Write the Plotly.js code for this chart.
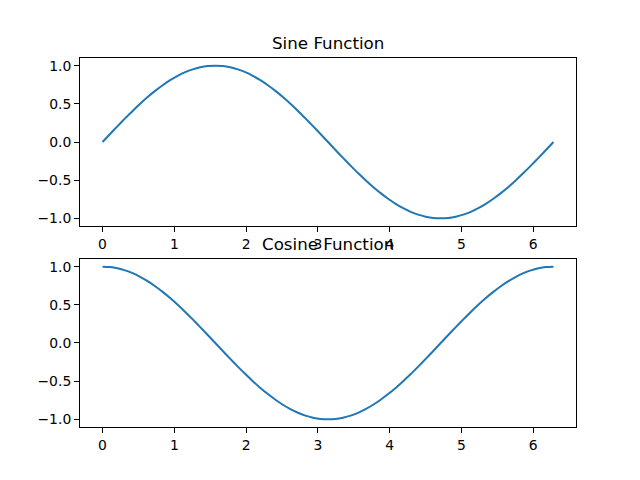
<!DOCTYPE html>
<html>
<head>
<meta charset="utf-8">
<script src="https://cdn.plot.ly/plotly-3.0.1.min.js"></script>
<style>html,body{margin:0;padding:0;background:#fff}#chart{width:640px;height:480px}</style>
</head>
<body>
<div id="chart"></div>
<script>
const xValues = [0, 0.105, 0.209, 0.314, 0.419, 0.524, 0.628, 0.733, 0.838, 0.942, 1.047, 1.152, 1.257, 1.361, 1.466, 1.571, 1.676, 1.780, 1.885, 1.990, 2.094, 2.199, 2.304, 2.409, 2.513, 2.618, 2.723, 2.827, 2.932, 3.037, 3.142, 3.246, 3.351, 3.456, 3.560, 3.665, 3.770, 3.875, 3.979, 4.084, 4.189, 4.294, 4.398, 4.503, 4.608, 4.712, 4.817, 4.922, 5.027, 5.131, 5.236, 5.341, 5.445, 5.550, 5.655, 5.760, 5.864, 5.969, 6.074, 6.178, 6.283];
const sineValues = [0, .105, .208, .309, .407, .5, .588, .669, .743, .809, .866, .914, .951, .978, .995, 1,
  .995, .978, .951, .914, .866, .809, .743, .669, .588, .5, .407, .309, .208, .105, 0,
  -.105, -.208, -.309, -.407, -.5, -.588, -.669, -.743, -.809, -.866, -.914, -.951, -.978, -.995, -1,
  -.995, -.978, -.951, -.914, -.866, -.809, -.743, -.669, -.588, -.5, -.407, -.309, -.208, -.105, 0];
const cosineValues = [1, .995, .978, .951, .914, .866, .809, .743, .669, .588, .5, .407, .309, .208, .105, 0,
  -.105, -.208, -.309, -.407, -.5, -.588, -.669, -.743, -.809, -.866, -.914, -.951, -.978, -.995, -1,
  -.995, -.978, -.951, -.914, -.866, -.809, -.743, -.669, -.588, -.5, -.407, -.309, -.208, -.105, 0,
  .105, .208, .309, .407, .5, .588, .669, .743, .809, .866, .914, .951, .978, .995, 1];
const titles = ["Sine Function", "Cosine Function"];
const xTicks = [0, 1, 2, 3, 4, 5, 6];
const yTicks = [-1.0, -0.5, 0.0, 0.5, 1.0];

const lineStyle = {color: '#1f77b4', width: 2, shape: 'spline', smoothing: 0.6};
const traces = [
  {x: xValues, y: sineValues, type: 'scatter', mode: 'lines', line: lineStyle, xaxis: 'x', yaxis: 'y'},
  {x: xValues, y: cosineValues, type: 'scatter', mode: 'lines', line: lineStyle, xaxis: 'x2', yaxis: 'y2'}
];
const font = {family: 'DejaVu Sans', size: 13.9, color: '#000'};
function xa(anchor) {
  return {anchor: anchor, range: [-0.314, 6.597], tickvals: xTicks, ticks: 'outside', ticklen: 5, tickwidth: 1,
    tickcolor: '#000', showline: true, linecolor: '#000', linewidth: 1, mirror: true, showgrid: false,
    zeroline: false, tickfont: font};
}
function ya(anchor, domain) {
  return {anchor: anchor, domain: domain, range: [-1.1, 1.1], tickvals: yTicks, tickformat: '.1f', ticks: 'outside',
    ticklen: 5, tickwidth: 1, tickcolor: '#000', showline: true, linecolor: '#000', linewidth: 1, mirror: true,
    showgrid: false, zeroline: false, tickfont: font};
}
const topDomain = [0.5447, 1];
const botDomain = [0, 0.4553];
const layout = {
  width: 640, height: 480,
  margin: {l: 80, r: 64, t: 58, b: 53},
  paper_bgcolor: '#fff', plot_bgcolor: '#fff',
  showlegend: false,
  font: font,
  xaxis: xa('y'), yaxis: ya('x', topDomain),
  xaxis2: xa('y2'), yaxis2: ya('x2', botDomain),
  annotations: [
    {text: titles[0], xref: 'paper', yref: 'paper', x: 0.5, y: topDomain[1], xanchor: 'center', yanchor: 'bottom',
     yshift: 3, showarrow: false, font: {family: 'DejaVu Sans', size: 16.7, color: '#000'}},
    {text: titles[1], xref: 'paper', yref: 'paper', x: 0.5, y: botDomain[1], xanchor: 'center', yanchor: 'bottom',
     yshift: 3, showarrow: false, font: {family: 'DejaVu Sans', size: 16.7, color: '#000'}}
  ]
};
Plotly.newPlot('chart', traces, layout, {displayModeBar: false, staticPlot: true});
</script>
</body>
</html>
